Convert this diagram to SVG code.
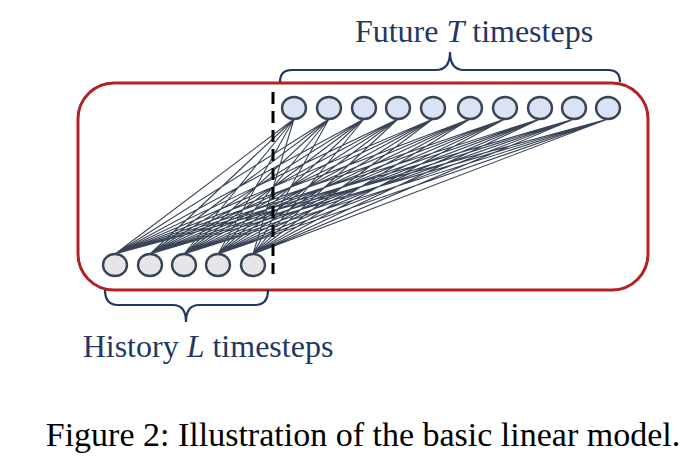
<svg xmlns="http://www.w3.org/2000/svg" width="692" height="470" viewBox="0 0 692 470">
<style>
.e{stroke:#3a4457;stroke-width:1.1}
.h{fill:#e6e6e6;stroke:#3a4457;stroke-width:2.4}
.f{fill:#dae3f3;stroke:#3a4457;stroke-width:2.4}
.b{fill:none;stroke:#1f3864;stroke-width:2.2}
.t{font-family:"Liberation Serif",serif;font-size:32px;fill:#1f3864}
</style>
<rect width="692" height="470" fill="#fff"/>
<rect x="78" y="83" width="570" height="207" rx="36" fill="none" stroke="#b22222" stroke-width="3"/>
<g id="connectors">
<path class="e" d="M115,254L294,119M115,254L329,119M115,254L364,119M115,254L398,119M115,254L433,119M115,254L470,119M115,254L505,119M115,254L540,119M115,254L574,119M115,254L608,119
M150,254L294,119M150,254L329,119M150,254L364,119M150,254L398,119M150,254L433,119M150,254L470,119M150,254L505,119M150,254L540,119M150,254L574,119M150,254L608,119
M184,254L294,119M184,254L329,119M184,254L364,119M184,254L398,119M184,254L433,119M184,254L470,119M184,254L505,119M184,254L540,119M184,254L574,119M184,254L608,119
M218,254L294,119M218,254L329,119M218,254L364,119M218,254L398,119M218,254L433,119M218,254L470,119M218,254L505,119M218,254L540,119M218,254L574,119M218,254L608,119
M253,254L294,119M253,254L329,119M253,254L364,119M253,254L398,119M253,254L433,119M253,254L470,119M253,254L505,119M253,254L540,119M253,254L574,119M253,254L608,119"/>
</g>
<line x1="273" y1="92" x2="273" y2="274" stroke="#000" stroke-width="3" stroke-dasharray="12,7"/>
<g id="history">
<ellipse class="h" cx="115" cy="265" rx="12" ry="11"/>
<ellipse class="h" cx="150" cy="265" rx="12" ry="11"/>
<ellipse class="h" cx="184" cy="265" rx="12" ry="11"/>
<ellipse class="h" cx="218" cy="265" rx="12" ry="11"/>
<ellipse class="h" cx="253" cy="265" rx="12" ry="11"/>
</g>
<g id="future">
<ellipse class="f" cx="294" cy="108" rx="12" ry="11"/>
<ellipse class="f" cx="329" cy="108" rx="12" ry="11"/>
<ellipse class="f" cx="364" cy="108" rx="12" ry="11"/>
<ellipse class="f" cx="398" cy="108" rx="12" ry="11"/>
<ellipse class="f" cx="433" cy="108" rx="12" ry="11"/>
<ellipse class="f" cx="470" cy="108" rx="12" ry="11"/>
<ellipse class="f" cx="505" cy="108" rx="12" ry="11"/>
<ellipse class="f" cx="540" cy="108" rx="12" ry="11"/>
<ellipse class="f" cx="574" cy="108" rx="12" ry="11"/>
<ellipse class="f" cx="608" cy="108" rx="12" ry="11"/>
</g>
<path class="b" d="M280,82Q280,70 292,70L436,70Q450,70 450,52Q450,70 464,70L608,70Q620,70 620,82"/>
<path class="b" d="M105,290Q105,305 118,305L173,305Q186,305 186,322Q186,305 199,305L255,305Q268,305 268,290"/>
<text class="t" x="474" y="42" text-anchor="middle">Future <tspan font-style="italic">T</tspan> timesteps</text>
<text class="t" x="208" y="357" text-anchor="middle">History <tspan font-style="italic">L</tspan> timesteps</text>
<text x="363" y="446" text-anchor="middle" font-family="Liberation Serif,serif" font-size="34" fill="#000">Figure 2: Illustration of the basic linear model.</text>
</svg>
